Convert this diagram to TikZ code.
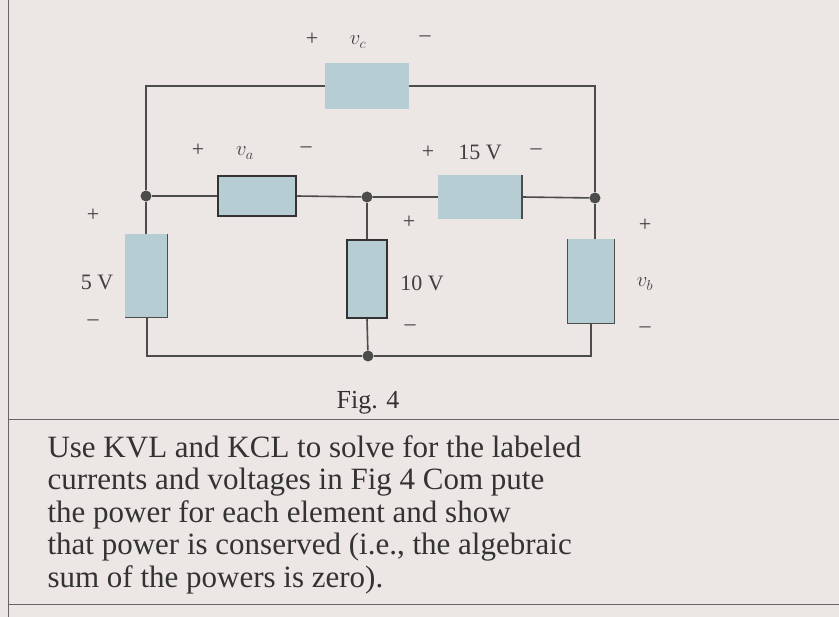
\documentclass[tikz,border=0pt]{standalone}
\usepackage{fontspec}
\setmainfont{Liberation Serif}
\begin{document}
\begin{tikzpicture}[x=1pt,y=-1pt,
  wire/.style={draw=black!70,line width=1.6pt},
  box/.style={fill=boxc,draw=none},
  dot/.style={circle,fill=black!70,inner sep=0pt,minimum size=11pt},
  lab/.style={font=\fontsize{22}{22}\selectfont,text=black!75},
  para/.style={font=\fontsize{31}{32.5}\selectfont,text=black!80,anchor=north west,align=left}]
\definecolor{boxc}{HTML}{B6CED3}
\definecolor{bg}{HTML}{ECE6E4}
\fill[bg] (0,0) rectangle (839,617);
\useasboundingbox (0,0) rectangle (839,617);
\draw[black!60,line width=1pt] (8,0) -- (8,617);
\draw[black!60,line width=1pt] (8,420) -- (839,420);
\draw[black!60,line width=1pt] (8,605) -- (839,605);
% nodes
\node[dot] (L) at (146,196) {};
\node[dot] (M) at (367,197) {};
\node[dot] (R) at (595,198) {};
\node[dot] (B) at (368,356) {};
\coordinate (TL) at (146,86);
\coordinate (TR) at (595,86);
\coordinate (BL) at (147,356);
\coordinate (BR) at (591,356);
% boxes
\node[box,minimum width=84pt,minimum height=46pt] (C) at (367,86) {};
\node[box,draw=black!80,line width=2.5pt,minimum width=78pt,minimum height=40pt] (A) at (257,196) {};
\node[box,minimum width=84pt,minimum height=44pt] (F) at (480,197) {};
\draw[black!70,line width=2pt] (F.north east) -- (F.south east);
\node[box,minimum width=42pt,minimum height=83pt] (S5) at (146,276) {};
\draw[black!70,line width=1.2pt] (S5.north east) -- (S5.south east) -- (S5.south west);
\node[box,draw=black!80,line width=2.5pt,minimum width=40pt,minimum height=78pt] (S10) at (367,279) {};
\node[box,minimum width=46pt,minimum height=84pt] (Vb) at (591,281) {};
\draw[black!70,line width=1.2pt] (Vb.north west) -- (Vb.south west) -- (Vb.south east) -- (Vb.north east);
% wires
\draw[wire] (L) -- (TL) -- (C.west);
\draw[wire] (C.east) -- (TR) -- (R);
\draw[wire] (L) -- (A.west);
\draw[wire] (A.east) -- (M) -- (F.west);
\draw[wire] (F.east) -- (R);
\draw[wire] (L) -- (S5.north -| L);
\draw[wire] (M) -- (S10.north);
\draw[wire] (R) -- (Vb.north -| R);
\draw[wire] (S5.south -| BL) -- (BL) -- (B) -- (BR) -- (Vb.south -| BR);
\draw[wire] (S10.south) -- (B);
% labels
\node[lab] at (312,39) {+};
\node[lab] at (358,42) {$v_c$};
\node[lab] at (425,39) {--};
\node[lab] at (198,150) {+};
\node[lab] at (245,153) {$v_a$};
\node[lab] at (306,150) {--};
\node[lab] at (428,152) {+};
\node[lab] at (480,152) {15 V};
\node[lab] at (536,152) {--};
\node[lab] at (93,215) {+};
\node[lab] at (97,282) {5 V};
\node[lab] at (93,323) {--};
\node[lab] at (409,222) {+};
\node[lab] at (422,283) {10 V};
\node[lab] at (410,328) {--};
\node[lab] at (645,225) {+};
\node[lab] at (645,284) {$v_b$};
\node[lab] at (645,330) {--};
\node[font=\fontsize{26}{26}\selectfont,text=black!80] at (368,403) {Fig. 4};
\node[para] at (44,432) {Use KVL and KCL to solve for the labeled\\currents and voltages in Fig 4 Com pute\\the power for each element and show\\that power is conserved (i.e., the algebraic\\sum of the powers is zero).};
\end{tikzpicture}
\end{document}
